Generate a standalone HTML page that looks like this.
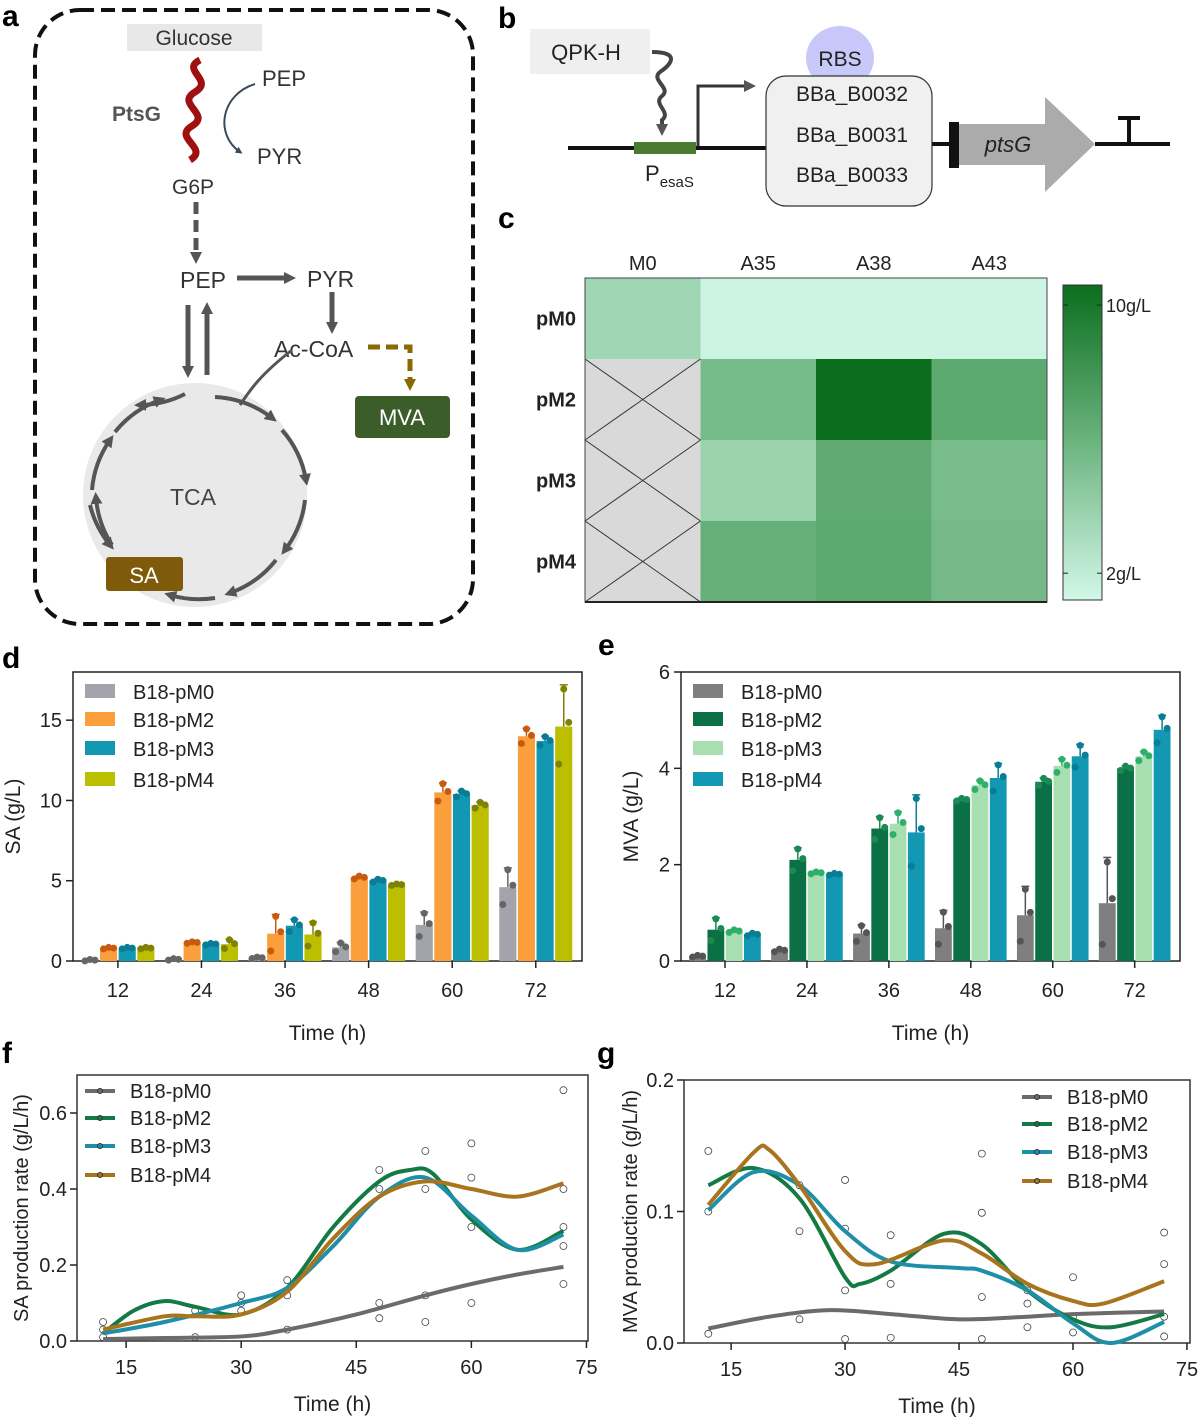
<!DOCTYPE html>
<html><head><meta charset="utf-8">
<style>
body{margin:0;background:#fff;font-family:"Liberation Sans",Arial,sans-serif;}
svg{display:block}
text{font-family:"Liberation Sans",Arial,sans-serif;}
</style></head>
<body>
<svg id="fig" width="1200" height="1417" viewBox="0 0 1200 1417" xmlns="http://www.w3.org/2000/svg">
<defs>
<marker id="ah" markerWidth="8" markerHeight="8" refX="4" refY="4" orient="auto" markerUnits="userSpaceOnUse"><path d="M0,0 L8,4 L0,8 z" fill="#555"/></marker>
<marker id="ahb" markerWidth="12" markerHeight="12" refX="6" refY="6" orient="auto" markerUnits="userSpaceOnUse"><path d="M0,0 L12,6 L0,12 z" fill="#555"/></marker>
<marker id="ahs" markerWidth="7" markerHeight="7" refX="4" refY="3.5" orient="auto" markerUnits="userSpaceOnUse"><path d="M0,0 L7,3.5 L0,7 z" fill="#3b4a5a"/></marker>
<marker id="ahm" markerWidth="12" markerHeight="12" refX="6" refY="6" orient="auto" markerUnits="userSpaceOnUse"><path d="M0,0 L12,6 L0,12 z" fill="#8a6a00"/></marker>
<linearGradient id="cbar" x1="0" y1="0" x2="0" y2="1"><stop offset="0" stop-color="#0b6e1e"/><stop offset="0.5" stop-color="#6cb47f"/><stop offset="1" stop-color="#d2f7e8"/></linearGradient>
</defs>

<!-- Panel a -->
<g>
<text x="2" y="26" font-size="30" font-weight="bold">a</text>
<rect x="35" y="10" width="438" height="614" rx="45" fill="none" stroke="#111" stroke-width="4" stroke-dasharray="14,7"/>
<rect x="127" y="24" width="135" height="27" fill="#e8e8e8"/>
<text x="194" y="45" font-size="21" text-anchor="middle" fill="#333">Glucose</text>
<path d="M200,60 C180,70 215,80 195,92 C175,104 212,114 192,126 C172,138 210,148 190,160" fill="none" stroke="#a01010" stroke-width="7"/>
<text x="112" y="121" font-size="21" font-weight="bold" fill="#555">PtsG</text>
<text x="262" y="86" font-size="22" fill="#333">PEP</text>
<text x="257" y="164" font-size="22" fill="#333">PYR</text>
<path d="M255,84 C220,95 215,135 240,152" fill="none" stroke="#3b4a5a" stroke-width="2" marker-end="url(#ahs)"/>
<text x="172" y="194" font-size="21" fill="#333">G6P</text>
<line x1="196" y1="202" x2="196" y2="258" stroke="#555" stroke-width="5" stroke-dasharray="12,6" marker-end="url(#ahb)"/>
<text x="180" y="288" font-size="23" fill="#333">PEP</text>
<line x1="237" y1="278" x2="290" y2="278" stroke="#555" stroke-width="5" marker-end="url(#ahb)"/>
<text x="307" y="287" font-size="23" fill="#333">PYR</text>
<line x1="332" y1="292" x2="332" y2="328" stroke="#555" stroke-width="5" marker-end="url(#ahb)"/>
<text x="274" y="357" font-size="23" fill="#333">Ac-CoA</text>
<path d="M368,347 L410,347 L410,385" fill="none" stroke="#8a6a00" stroke-width="5" stroke-dasharray="12,6" marker-end="url(#ahm)"/>
<rect x="355" y="396" width="95" height="42" rx="4" fill="#3b5d2a"/>
<text x="402" y="425" font-size="22" fill="#fff" text-anchor="middle">MVA</text>
<line x1="188" y1="305" x2="188" y2="372" stroke="#555" stroke-width="5" marker-end="url(#ahb)"/>
<line x1="207" y1="375" x2="207" y2="308" stroke="#555" stroke-width="5" marker-end="url(#ahb)"/>
<circle cx="195" cy="495" r="112" fill="#e9e9e9"/>
<path d="M292,350 C260,375 250,390 240,405" fill="none" stroke="#555" stroke-width="3"/>
<g fill="none" stroke="#555" stroke-width="4">
<path d="M215,397 A102,102 0 0 1 272,418" marker-end="url(#ahb)"/>
<path d="M282,430 A102,102 0 0 1 306,480" marker-end="url(#ahb)"/>
<path d="M305,500 A102,102 0 0 1 285,550" marker-end="url(#ahb)"/>
<path d="M276,560 A102,102 0 0 1 230,593" marker-end="url(#ahb)"/>
<path d="M215,598 A102,102 0 0 1 170,595" marker-end="url(#ahb)"/>
<path d="M112,545 A102,102 0 0 1 96,498" marker-end="url(#ahb)"/>
<path d="M92,490 A102,102 0 0 1 110,440" marker-end="url(#ahb)"/>
<path d="M115,432 A102,102 0 0 1 160,400" marker-end="url(#ahb)"/>
<path d="M185,394 A102,102 0 0 1 140,405" marker-end="url(#ahb)"/>
<path d="M90,505 A102,102 0 0 0 110,545" marker-end="url(#ahb)"/>
</g>
<text x="193" y="505" font-size="23" fill="#444" text-anchor="middle">TCA</text>
<rect x="106" y="557" width="77" height="34" rx="3" fill="#7f5a0a"/>
<text x="144" y="583" font-size="22" fill="#fff" text-anchor="middle">SA</text>
</g>

<!-- Panel b -->
<g>
<text x="498" y="28" font-size="30" font-weight="bold">b</text>
<rect x="530" y="29" width="120" height="45" fill="#efefef"/>
<text x="586" y="60" font-size="22" text-anchor="middle" fill="#222">QPK-H</text>
<path d="M652,52 C680,52 672,64 660,72 C650,80 672,88 662,96 C652,104 672,112 662,120 L662,130" fill="none" stroke="#444" stroke-width="4" marker-end="url(#ahb)"/>
<line x1="568" y1="148" x2="766" y2="148" stroke="#111" stroke-width="4"/>
<rect x="634" y="142" width="62" height="12" fill="#4a7a30"/>
<text x="645" y="181" font-size="22" fill="#222">P<tspan font-size="15" dy="6">esaS</tspan></text>
<path d="M698,146 L698,86 L750,86" fill="none" stroke="#333" stroke-width="3" marker-end="url(#ahb)"/>
<ellipse cx="840" cy="58" rx="34" ry="32" fill="#c8c8fb"/>
<text x="840" y="66" font-size="21" text-anchor="middle" fill="#222">RBS</text>
<rect x="766" y="76" width="166" height="130" rx="20" fill="#f0f0f0" stroke="#333" stroke-width="1.2"/>
<text x="852" y="101" font-size="21" text-anchor="middle" fill="#222">BBa_B0032</text>
<text x="852" y="142" font-size="21" text-anchor="middle" fill="#222">BBa_B0031</text>
<text x="852" y="182" font-size="21" text-anchor="middle" fill="#222">BBa_B0033</text>
<line x1="932" y1="144" x2="952" y2="144" stroke="#111" stroke-width="4"/>
<rect x="949" y="122" width="10" height="46" fill="#111"/>
<path d="M959,124 L1045,124 L1045,97 L1095,144 L1045,192 L1045,165 L959,165 z" fill="#ababab"/>
<text x="1008" y="152" font-size="22" font-style="italic" text-anchor="middle" fill="#222">ptsG</text>
<line x1="1095" y1="144" x2="1170" y2="144" stroke="#111" stroke-width="4"/>
<path d="M1129,144 L1129,118 M1118,118 L1140,118" stroke="#111" stroke-width="4"/>
</g>

<!-- Panel c -->
<g id="heat">
<text x="498" y="228" font-size="30" font-weight="bold">c</text>
</g>

<g id="pd"><text x="2" y="668" font-size="30" font-weight="bold">d</text></g>
<g id="pe"><text x="598" y="655" font-size="30" font-weight="bold">e</text></g>
<g id="pf"><text x="2" y="1063" font-size="30" font-weight="bold">f</text></g>
<g id="pg"><text x="597" y="1063" font-size="30" font-weight="bold">g</text></g>
</svg>

<script>
// ---------- Heatmap data ----------
const hmCols = ["M0","A35","A38","A43"];
const hmRows = ["pM0","pM2","pM3","pM4"];
// SA titers (g/L); null = not tested
const hmValues = [
  [4.0, 2.2, 2.2, 2.2],
  [null, 5.6, 10.0, 6.6],
  [null, 4.2, 6.5, 5.5],
  [null, 6.3, 6.6, 5.7]
];
const hmScale = [2, 10];

// ---------- Bar data (panel d, SA g/L) ----------
const barTimes = [12,24,36,48,60,72];
const seriesNames = ["B18-pM0","B18-pM2","B18-pM3","B18-pM4"];
const saM0 = [0.05,0.1,0.2,0.85,2.25,4.6];
const saM2 = [0.8,1.15,1.7,5.2,10.5,14.0];
const saM3 = [0.8,1.05,2.2,5.0,10.4,13.7];
const saM4 = [0.8,1.05,1.65,4.75,9.7,14.6];
const saErrM0 = [0.05,0.05,0.05,0.3,0.8,1.2];
const saErrM2 = [0.05,0.05,1.2,0.1,0.6,0.5];
const saErrM3 = [0.05,0.05,0.4,0.1,0.2,0.3];
const saErrM4 = [0.05,0.3,0.8,0.05,0.2,2.6];
const saTicks = [0,5,10,15];

// ---------- Bar data (panel e, MVA g/L) ----------
const mvaM0 = [0.1,0.22,0.57,0.68,0.95,1.2];
const mvaM2 = [0.65,2.1,2.75,3.35,3.72,4.0];
const mvaM3 = [0.62,1.83,2.85,3.65,4.05,4.25];
const mvaM4 = [0.55,1.8,2.67,3.8,4.25,4.8];
const mvaErrM0 = [0.02,0.03,0.18,0.37,0.6,0.95];
const mvaErrM2 = [0.25,0.25,0.25,0.03,0.08,0.05];
const mvaErrM3 = [0.03,0.02,0.25,0.1,0.15,0.1];
const mvaErrM4 = [0.03,0.02,0.78,0.3,0.25,0.3];
const mvaTicks = [0,2,4,6];

// ---------- Rate curves (panel f, SA g/L/h) ----------
const fT0 = [12,20,30,36,45,54,60,66,72];
const fM0 = [0.005,0.008,0.012,0.03,0.07,0.12,0.15,0.175,0.195];
const fT2 = [12,16,20,24,30,36,42,48,52,55,60,66,72];
const fM2 = [0.02,0.08,0.105,0.09,0.07,0.14,0.3,0.42,0.45,0.44,0.32,0.24,0.29];
const fT3 = [12,20,30,36,42,48,54,60,66,72];
const fM3 = [0.02,0.05,0.1,0.14,0.25,0.38,0.43,0.33,0.24,0.28];
const fT4 = [12,20,24,30,36,42,48,54,60,66,72];
const fM4 = [0.03,0.065,0.065,0.07,0.13,0.27,0.38,0.42,0.4,0.38,0.415];
const fPtT = [12,12,12,24,24,30,30,30,36,36,36,48,48,48,48,54,54,54,54,60,60,60,60,72,72,72,72,72];
const fPtV = [0.01,0.03,0.05,0.01,0.08,0.08,0.1,0.12,0.03,0.12,0.16,0.06,0.1,0.4,0.45,0.05,0.12,0.4,0.5,0.1,0.3,0.43,0.52,0.15,0.25,0.3,0.4,0.66];

// ---------- Rate curves (panel g, MVA g/L/h) ----------
const gT0 = [12,20,28,36,45,54,60,72];
const gM0 = [0.011,0.02,0.025,0.022,0.018,0.02,0.022,0.024];
const gT2 = [12,18,24,30,32,36,43,48,54,60,65,72];
const gM2 = [0.12,0.133,0.11,0.05,0.045,0.055,0.083,0.075,0.04,0.018,0.012,0.022];
const gT3 = [12,18,24,30,36,45,48,54,60,65,72];
const gM3 = [0.101,0.13,0.12,0.085,0.062,0.057,0.055,0.04,0.015,0.0,0.016];
const gT4 = [12,18,20,24,30,34,43,48,54,60,64,72];
const gM4 = [0.105,0.145,0.147,0.12,0.07,0.06,0.078,0.068,0.045,0.032,0.03,0.047];
const gPtT = [12,12,12,24,24,24,30,30,30,30,36,36,36,48,48,48,48,54,54,54,60,60,60,72,72,72,72];
const gPtV = [0.007,0.1,0.146,0.018,0.085,0.12,0.003,0.04,0.087,0.124,0.004,0.045,0.082,0.003,0.035,0.099,0.144,0.012,0.03,0.04,0.008,0.02,0.05,0.005,0.02,0.06,0.084];

const NS="http://www.w3.org/2000/svg";
function mk(parent,tag,attrs,txt){const e=document.createElementNS(NS,tag);for(const k in attrs)e.setAttribute(k,attrs[k]);if(txt!==undefined)e.textContent=txt;parent.appendChild(e);return e;}

// ---- Heatmap ----
(function(){
  const g=document.getElementById('heat');
  const x0=585,y0=278,cw=115.5,rh=81;
  function col(v){const t=Math.max(0,Math.min(1,(v-hmScale[0])/(hmScale[1]-hmScale[0])));
    const a=[210,247,232],m=[108,180,127],b=[11,110,30];
    let c; if(t<0.5){const u=t/0.5;c=a.map((q,i)=>q+(m[i]-q)*u);}else{const u=(t-0.5)/0.5;c=m.map((q,i)=>q+(b[i]-q)*u);}
    return 'rgb('+c.map(Math.round).join(',')+')';}
  hmCols.forEach((c,j)=>{const t=mk(g,'text',{x:x0+cw*j+cw/2,y:270,'font-size':20,'text-anchor':'middle',fill:'#222'},c);
    });
  hmRows.forEach((r,i)=>{const t=mk(g,'text',{x:536,y:y0+rh*i+rh/2+7,'font-size':20,'font-weight':'bold',fill:'#222'},r);
    
    hmCols.forEach((c,j)=>{const v=hmValues[i][j];const x=x0+cw*j,y=y0+rh*i;
      const r2=mk(g,'rect',{x:x,y:y,width:cw+0.5,height:rh+0.5,fill:v===null?'#d9d9d9':col(v)});
      
      if(v===null){mk(g,'path',{d:`M${x},${y} L${x+cw},${y+rh} M${x+cw},${y} L${x},${y+rh}`,stroke:'#333','stroke-width':1,fill:'none'});}
    });});
  mk(g,'rect',{x:x0,y:y0,width:cw*4,height:rh*4,fill:'none',stroke:'#444','stroke-width':1});
  mk(g,'line',{x1:x0,y1:y0+rh*4,x2:x0+cw*4,y2:y0+rh*4,stroke:'#222','stroke-width':2});
  const cb=mk(g,'rect',{x:1063,y:285,width:39,height:315,fill:'url(#cbar)',stroke:'#333','stroke-width':1});
  
  const sy=v=>600-(v-1.2)/(10.6-1.2)*315;
  hmScale.slice().reverse().forEach(v=>{const y=sy(v);
    mk(g,'line',{x1:1097,y1:y,x2:1102,y2:y,stroke:'#222'});mk(g,'line',{x1:1063,y1:y,x2:1068,y2:y,stroke:'#222'});
    const t=mk(g,'text',{x:1106,y:y+7,'font-size':18,fill:'#222'},v+'g/L');
    });
})();

// ---- Bar charts ----
function barChart(gid,cfg){
  const g=document.getElementById(gid);
  const {L,R,T,B,ymax,ticks,series,errs,colors,dotColors,ylabel,ylx}=cfg;
  const span=(R-L)/6.09, first=L+0.537*span;
  const X=i=>first+span*i;
  const Y=v=>B-(v/ymax)*(B-T);
  const bw=span*0.205, gap=span*0.018;
  mk(g,'rect',{x:L,y:T,width:R-L,height:B-T,fill:'none',stroke:'#222','stroke-width':1.5});
  ticks.forEach(v=>{mk(g,'line',{x1:L-7,y1:Y(v),x2:L,y2:Y(v),stroke:'#222','stroke-width':1.5});
    const t=mk(g,'text',{x:L-11,y:Y(v)+7,'font-size':20,'text-anchor':'end',fill:'#222'},v);
    });
  barTimes.forEach((tm,i)=>{mk(g,'line',{x1:X(i),y1:B,x2:X(i),y2:B+7,stroke:'#222','stroke-width':1.5});
    const t=mk(g,'text',{x:X(i),y:B+36,'font-size':20,'text-anchor':'middle',fill:'#222'},tm);
    });
  series.forEach((arr,s)=>{arr.forEach((v,i)=>{
    const bx=X(i)-2*bw-1.5*gap+s*(bw+gap);
    const r=mk(g,'rect',{x:bx,y:Y(v),width:bw,height:B-Y(v),fill:colors[s]});
    
    
    const cx=bx+bw/2, et=Y(v+errs[s][i]);
    mk(g,'line',{x1:cx,y1:Y(v),x2:cx,y2:et,stroke:dotColors[s],'stroke-width':1.5});
    mk(g,'line',{x1:cx-4,y1:et,x2:cx+4,y2:et,stroke:dotColors[s],'stroke-width':1.5});
    [0,1,2].forEach(j=>{const dv=v+errs[s][i]*(j===0?-0.9:(j===1?0.9:0.1));
      mk(g,'circle',{cx:cx+(j-1)*5,cy:Y(Math.max(0,dv)),r:3.5,fill:dotColors[s]});});
  });});
  series.forEach((a,s)=>{const y=cfg.legY[s];
    const r=mk(g,'rect',{x:cfg.legX,y:y-8,width:30,height:14,fill:colors[s]});
    
    const t=mk(g,'text',{x:cfg.legX+48,y:y+7,'font-size':20,fill:'#222'},seriesNames[s]);
    });
  const yl=mk(g,'text',{x:ylx,y:(T+B)/2,'font-size':21,'text-anchor':'middle',fill:'#222',transform:`rotate(-90 ${ylx} ${(T+B)/2})`},ylabel);
  
  const xl=mk(g,'text',{x:(L+R)/2,y:B+79,'font-size':21,'text-anchor':'middle',fill:'#222'},'Time (h)');
  
}
barChart('pd',{L:73,R:582,T:672,B:961,ymax:18,ticks:saTicks,series:[saM0,saM2,saM3,saM4],errs:[saErrM0,saErrM2,saErrM3,saErrM4],
  colors:['#a3a3ab','#fb9e3c','#1298b3','#bcbf00'],dotColors:['#666','#c85a10','#0a7d96','#7f8200'],ylabel:'SA (g/L)',ylx:20,legX:85,legY:[692,720,749,780]});
barChart('pe',{L:681,R:1180,T:672,B:961,ymax:6,ticks:mvaTicks,series:[mvaM0,mvaM2,mvaM3,mvaM4],errs:[mvaErrM0,mvaErrM2,mvaErrM3,mvaErrM4],
  colors:['#7f7f7f','#0b7045','#a8dfb0','#1298b3'],dotColors:['#555','#1a8a50','#2fb06a','#0a7d96'],ylabel:'MVA (g/L)',ylx:638,legX:693,legY:[692,720,749,780]});

// ---- Line charts ----
function smooth(pts){let d=`M${pts[0][0]},${pts[0][1]}`;
  for(let i=0;i<pts.length-1;i++){const p0=pts[i-1]||pts[i],p1=pts[i],p2=pts[i+1],p3=pts[i+2]||p2;
    const c1=[p1[0]+(p2[0]-p0[0])/6,p1[1]+(p2[1]-p0[1])/6],c2=[p2[0]-(p3[0]-p1[0])/6,p2[1]-(p3[1]-p1[1])/6];
    d+=` C${c1[0]},${c1[1]} ${c2[0]},${c2[1]} ${p2[0]},${p2[1]}`;}return d;}
function lineChart(gid,cfg){
  const g=document.getElementById(gid);
  const {L,R,T,B,xmin,xmax,ymin,ymax,xticks,yticks,ylabel,ylx,curves,ptT,ptV}=cfg;
  const X=v=>L+(v-xmin)/(xmax-xmin)*(R-L);
  const Y=v=>B-(v-ymin)/(ymax-ymin)*(B-T);
  mk(g,'rect',{x:L,y:T,width:R-L,height:B-T,fill:'none',stroke:'#333','stroke-width':1.5});
  yticks.forEach(v=>{mk(g,'line',{x1:L-7,y1:Y(v),x2:L,y2:Y(v),stroke:'#222','stroke-width':1.5});
    const t=mk(g,'text',{x:L-10,y:Y(v)+7,'font-size':20,'text-anchor':'end',fill:'#222'},v.toFixed(1));
    });
  xticks.forEach(v=>{mk(g,'line',{x1:X(v),y1:B,x2:X(v),y2:B+7,stroke:'#222','stroke-width':1.5});
    const t=mk(g,'text',{x:X(v),y:B+33,'font-size':20,'text-anchor':'middle',fill:'#222'},v);
    });
  ptT.forEach((t,i)=>{const c=mk(g,'circle',{cx:X(t),cy:Y(ptV[i]),r:3.5,fill:'none',stroke:'#444','stroke-width':0.8});
    });
  curves.forEach((c,s)=>{const pts=c.t.map((t,i)=>[X(t),Y(c.v[i])]);
    const p=mk(g,'path',{d:smooth(pts),fill:'none',stroke:c.color,'stroke-width':4});
    });
  curves.forEach((c,s)=>{const y=cfg.legY[s];
    mk(g,'line',{x1:cfg.legX,y1:y,x2:cfg.legX+30,y2:y,stroke:c.color,'stroke-width':4});
    mk(g,'circle',{cx:cfg.legX+15,cy:y,r:2.5,fill:'none',stroke:'#333','stroke-width':1});
    const t=mk(g,'text',{x:cfg.legX+45,y:y+7,'font-size':20,fill:'#222'},seriesNames[s]);
    });
  const yl=mk(g,'text',{x:ylx,y:(T+B)/2,'font-size':20,'text-anchor':'middle',fill:'#222',transform:`rotate(-90 ${ylx} ${(T+B)/2})`},ylabel);
  
  const xl=mk(g,'text',{x:(L+R)/2,y:B+70,'font-size':21,'text-anchor':'middle',fill:'#222'},'Time (h)');
  
}
const cols=['#6b6b6b','#137a45','#1f8fa8','#a8741e'];
lineChart('pf',{L:77,R:588,T:1075,B:1341,xmin:8.6,xmax:75.2,ymin:0,ymax:0.7,xticks:[15,30,45,60,75],yticks:[0,0.2,0.4,0.6],
  ylabel:'SA production rate (g/L/h)',ylx:28,ptT:fPtT,ptV:fPtV,legX:85,legY:[1091,1118,1146,1175],
  curves:[{t:fT0,v:fM0,color:cols[0]},{t:fT2,v:fM2,color:cols[1]},{t:fT3,v:fM3,color:cols[2]},{t:fT4,v:fM4,color:cols[3]}]});
lineChart('pg',{L:684,R:1190,T:1080,B:1343,xmin:8.8,xmax:75.4,ymin:0,ymax:0.2,xticks:[15,30,45,60,75],yticks:[0,0.1,0.2],
  ylabel:'MVA production rate (g/L/h)',ylx:637,ptT:gPtT,ptV:gPtV,legX:1022,legY:[1097,1124,1152,1181],
  curves:[{t:gT0,v:gM0,color:cols[0]},{t:gT2,v:gM2,color:cols[1]},{t:gT3,v:gM3,color:cols[2]},{t:gT4,v:gM4,color:cols[3]}]});
</script>
</body></html>
